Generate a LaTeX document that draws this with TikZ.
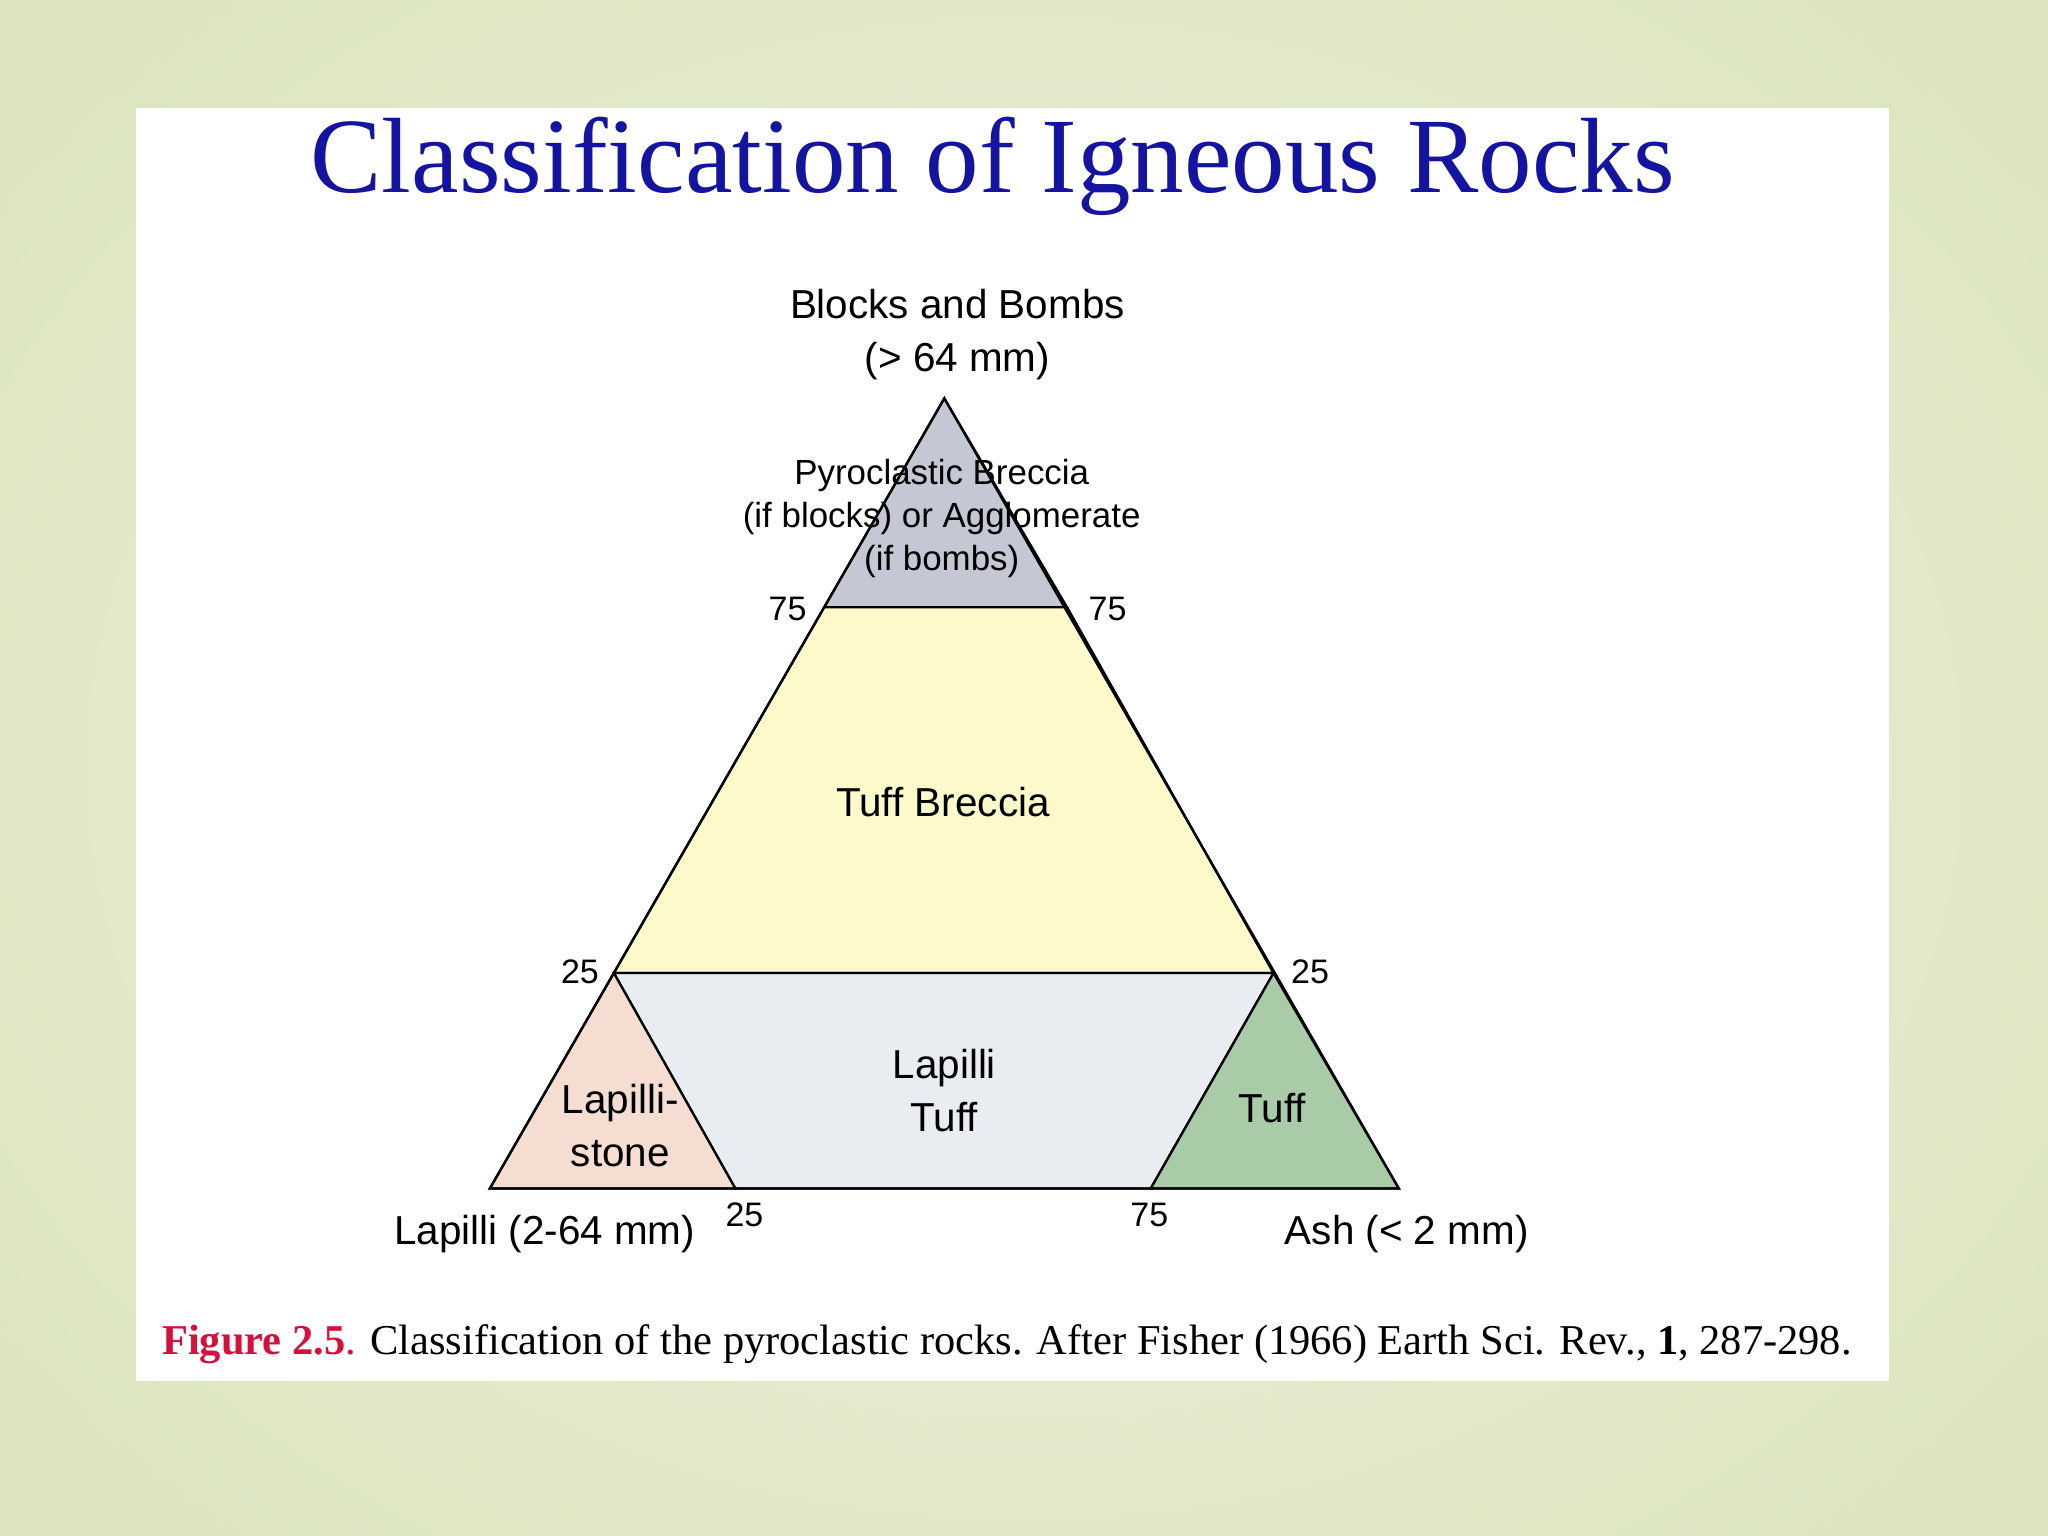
\documentclass[tikz,border=0pt]{standalone}
\usepackage{fontspec}
\setmainfont{Liberation Serif}
\newfontfamily\lab{Liberation Sans}
\definecolor{bgin}{HTML}{F0F2E4}
\definecolor{bgout}{HTML}{DCE5BF}
\definecolor{topc}{HTML}{C5C8D4}
\definecolor{tbc}{HTML}{FDF9CB}
\definecolor{ltc}{HTML}{E9ECF0}
\definecolor{lsc}{HTML}{F5DDD2}
\definecolor{tfc}{HTML}{A9CBA8}
\definecolor{titc}{HTML}{1414A0}
\definecolor{figc}{HTML}{D4103C}
\begin{document}
\begin{tikzpicture}[x=0.01cm,y=-0.01cm,
  lbl/.style={font=\lab\fontsize{8.8}{11.5}\selectfont,align=center,inner sep=0},
  sm/.style={font=\lab\fontsize{7.6}{9.3}\selectfont,align=center,inner sep=0},
  num/.style={font=\lab\fontsize{7.4}{9}\selectfont,inner sep=0},
  reg/.style={draw=black,line width=0.5pt}]
\useasboundingbox (0,0) rectangle (1568,1176);
\shade[inner color=bgin, outer color=bgout] (-200,-200) rectangle (1768,1376);
\fill[white] (104,83) rectangle (1446,1057);
\node[font=\fontsize{23.3}{28}\selectfont,text=titc,inner sep=0] (title) at (760,127) {Classification of Igneous Rocks};
\coordinate (A) at (723,305); \coordinate (L) at (375,910); \coordinate (R) at (1071,910);
\coordinate (a75) at (631,465); \coordinate (b75) at (817,465);
\coordinate (a25) at (470,745); \coordinate (b25) at (975,745);
\coordinate (c25) at (563,910); \coordinate (c75) at (881,910);
\fill[reg,fill=topc] (A)--(b75)--(a75)--cycle;
\fill[reg,fill=tbc] (a75)--(b75)--(b25)--(a25)--cycle;
\fill[reg,fill=ltc] (a25)--(b25)--(c75)--(c25)--cycle;
\fill[reg,fill=lsc] (a25)--(c25)--(L)--cycle;
\fill[reg,fill=tfc] (b25)--(R)--(c75)--cycle;
\draw[reg] (A)--(L)--(R)--cycle;
\node[lbl] (bb) at (733,256) {Blocks and Bombs\\(> 64 mm)};
\node[sm] (pb) at (721,397) {Pyroclastic Breccia\\(if blocks) or Agglomerate\\(if bombs)};
\node[lbl] (tb) at (722,614) {Tuff Breccia};
\node[lbl] (lt) at (723,835) {Lapilli\\Tuff};
\node[lbl] (ls) at (475,862) {Lapilli-\\stone};
\node[lbl] (tf) at (974,848) {Tuff};
\node[lbl] (lp) at (417,945) {Lapilli (2-64 mm)};
\node[lbl] (ash) at (1077,945) {Ash (< 2 mm)};
\node[num] (n1) at (603,466) {75};
\node[num] (n2) at (848,466) {75};
\node[num] (n3) at (444,744) {25};
\node[num] (n4) at (1003,744) {25};
\node[num] (n5) at (570,930) {25};
\node[num] (n6) at (880,930) {75};
\node[font=\fontsize{9.25}{11}\selectfont,inner sep=0] (cap) at (771,1029) {\textcolor{figc}{\textbf{Figure 2.5}.} Classification of the pyroclastic rocks. After Fisher (1966) Earth Sci. Rev., \textbf{1}, 287-298.};
\end{tikzpicture}
\end{document}
